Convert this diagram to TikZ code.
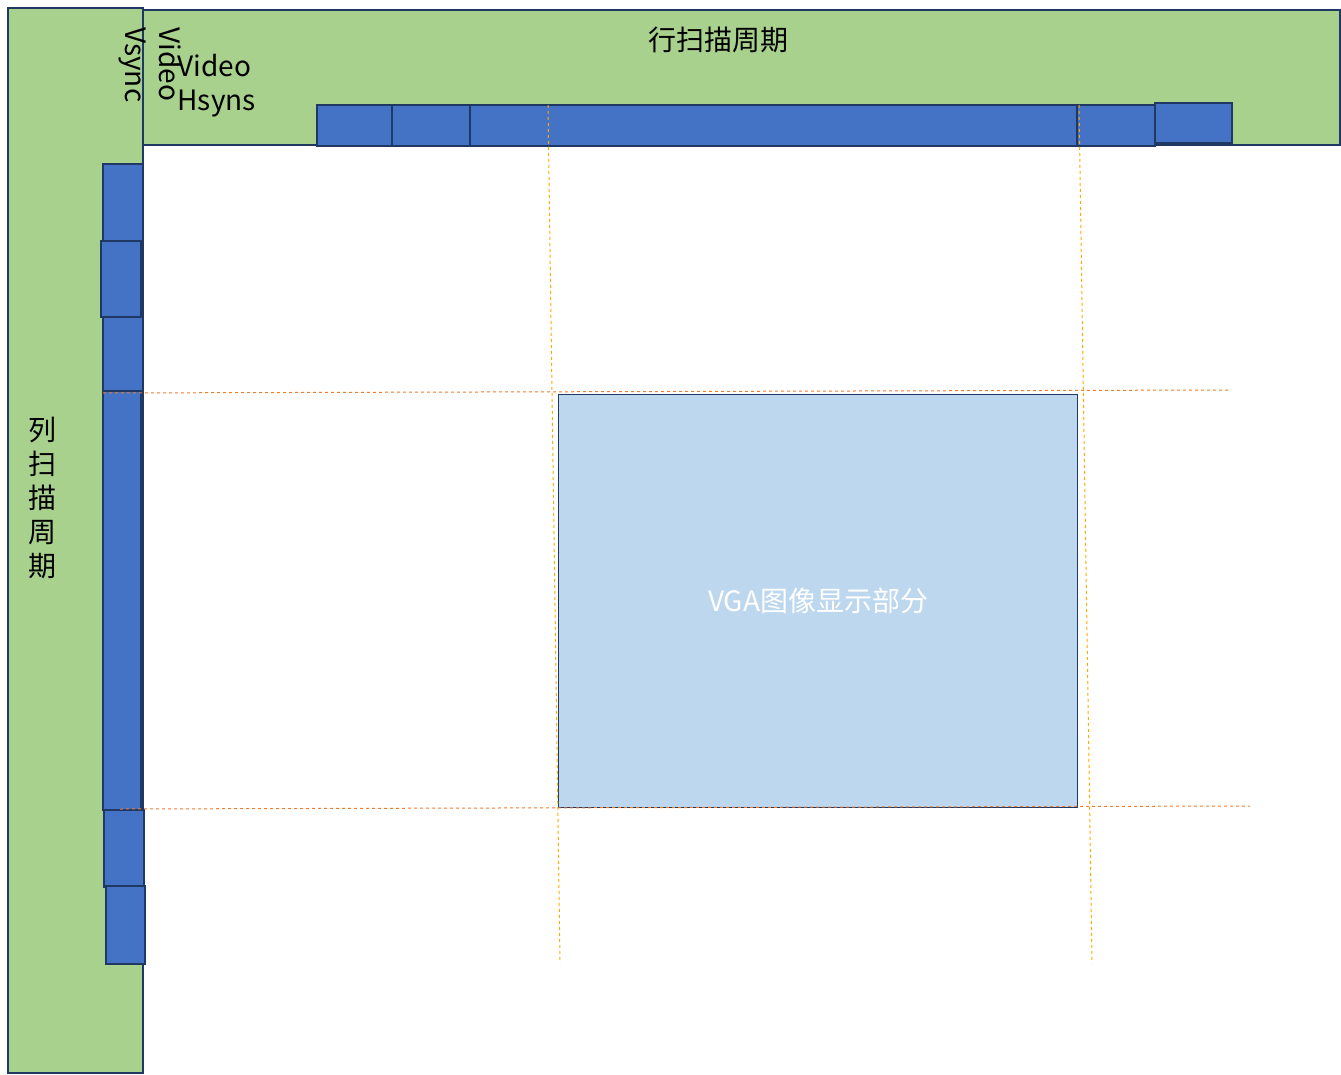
\documentclass[tikz,border=0pt]{standalone}
\usepackage{fontspec}
\newfontfamily\cjk{Noto Sans CJK SC}
\begin{document}
\begin{tikzpicture}[x=1pt,y=-1pt,
  green/.style={fill={rgb,255:red,169;green,209;blue,142},draw={rgb,255:red,31;green,56;blue,100},line width=1.2pt},
  bluebox/.style={fill={rgb,255:red,68;green,114;blue,196},draw={rgb,255:red,31;green,56;blue,100},line width=1.2pt},
  vdash/.style={dashed,draw={rgb,255:red,255;green,170;blue,0},line width=1pt},
  hdash/.style={dashed,draw={rgb,255:red,237;green,125;blue,49},line width=1pt},
  lbl/.style={font=\cjk\fontsize{28}{34}\selectfont,text=black}]
\useasboundingbox (0,0) rectangle (1341,1075);
\draw[green] (143,10) rectangle (1340,145);
\draw[green] (8,8) rectangle (143,1073);
\foreach \a/\b in {317/392,392/470,470/1077,1077/1155}
  \draw[bluebox] (\a,105) rectangle (\b,146);
\draw[bluebox] (1155,103) rectangle (1232,143);
\draw[bluebox] (103,164) rectangle (143,241);
\draw[bluebox] (101,241) rectangle (141,317);
\draw[bluebox] (103,317) rectangle (143,391);
\draw[bluebox] (103,391) rectangle (141,810);
\draw[bluebox] (104,810) rectangle (144,887);
\draw[bluebox] (106,886) rectangle (145,964);
\node[draw={rgb,255:red,31;green,56;blue,100},line width=1.2pt,fill={rgb,255:red,189;green,215;blue,238},minimum width=519pt,minimum height=413pt,anchor=north west,inner sep=0] (vga) at (558,394) {};
\node[lbl,text=white] (vgat) at (vga.center) {VGA图像显示部分};
\coordinate (v1a) at (548,105); \coordinate (v1b) at (560,963);
\coordinate (v2a) at (1079,105); \coordinate (v2b) at (1092,963);
\coordinate (h1a) at (103,393); \coordinate (h1b) at (1230,390);
\coordinate (h2a) at (120,809); \coordinate (h2b) at (1250,806);
\draw[vdash] (v1a) -- (v1b);
\draw[vdash] (v2a) -- (v2b);
\draw[hdash] (h1a) -- (h1b);
\draw[hdash] (h2a) -- (h2b);
\node[lbl] (hs) at (718,40) {行扫描周期};
\node[lbl,align=left,anchor=west] (vh) at (174,86) {Video\\Hsyns};
\node[lbl,rotate=-90,align=left,anchor=south west] (vv) at (115,24) {Video\\Vsync};
\node[lbl,align=center] (ls) at (42,498) {列\\扫\\描\\周\\期};
\end{tikzpicture}
\end{document}
